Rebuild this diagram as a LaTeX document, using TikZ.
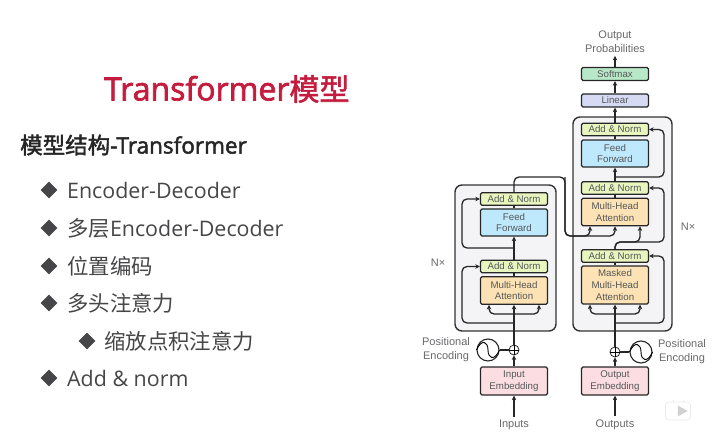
\documentclass[tikz,border=0pt]{standalone}
\usepackage{fontspec}
\setmainfont{Open Sans}
\newfontfamily\cjk{Noto Sans CJK SC}
\newfontfamily\medfont[FakeBold=2.2]{Open Sans}
\newfontfamily\cjkmed[FakeBold=1.8]{Noto Sans CJK SC}
\newfontfamily\labelfont{Liberation Sans}
\usepackage{tikz}
\usetikzlibrary{arrows.meta}
\usetikzlibrary{positioning,shapes.geometric}
\definecolor{titlered}{RGB}{196,28,62}
\definecolor{bodygrey}{RGB}{70,70,72}
\definecolor{labelgrey}{RGB}{105,105,108}
\definecolor{blocktext}{RGB}{85,88,88}
\definecolor{framefill}{RGB}{244,244,247}
\definecolor{normfill}{RGB}{232,245,190}
\definecolor{feedfill}{RGB}{190,232,252}
\definecolor{attfill}{RGB}{252,226,180}
\definecolor{embedfill}{RGB}{252,222,226}
\definecolor{linearfill}{RGB}{214,218,242}
\definecolor{softfill}{RGB}{184,232,200}
\tikzset{
  block/.style={
    draw=black!85,
    rounded corners=1.5pt,
    line width=1.3pt,
    minimum width=67pt,
    inner sep=0pt,
    align=center,
    text=blocktext,
    font=\labelfont\fontsize{9.7}{11.7}\selectfont
  },
  normblock/.style={block, fill=normfill, minimum height=12.5pt},
  feedblock/.style={block, fill=feedfill, minimum height=27pt},
  attblock/.style={block, fill=attfill, minimum height=27.5pt},
  embedblock/.style={block, fill=embedfill, minimum height=28pt},
  layerframe/.style={draw=black!80, fill=framefill, rounded corners=7pt, line width=1.4pt},
  plainlabel/.style={align=center, text=labelgrey, font=\labelfont\fontsize{11}{14}\selectfont},
  wire/.style={draw=black!85, line width=1.3pt, rounded corners=5pt},
  flow/.style={wire, -{Stealth[length=4.5pt, width=4.5pt]}},
  addnode/.style={circle, draw=black!85, line width=0.8pt, minimum size=10pt, inner sep=0pt},
  sinenode/.style={circle, draw=black!85, line width=1.1pt, minimum size=22pt, inner sep=0pt},
  bullet/.style={diamond, fill=bodygrey, inner sep=0pt, minimum size=17pt},
  item/.style={anchor=west, text=bodygrey, font=\fontsize{21.4}{24}\selectfont}
}
\begin{document}
\begin{tikzpicture}[x=1pt, y=-1pt]
  \useasboundingbox (0,0) rectangle (720,433);

  % Left text
  \node[anchor=west, inner sep=0pt, text=titlered, font=\medfont\fontsize{32}{36}\selectfont] (title) at (104,89) {Transformer{\cjkmed\fontsize{30}{36}\selectfont 模型}};
  \node[anchor=west, inner sep=0pt, text=black!85, font=\medfont\fontsize{22.5}{26}\selectfont] (heading) at (20,145) {{\cjkmed 模型结构}-Transformer};

  \node[bullet] (b1) at (49,190) {};
  \node[item, inner sep=0pt] (t1) at (67,190) {Encoder-Decoder};
  \node[bullet] (b2) at (49,228) {};
  \node[item, inner sep=0pt] (t2) at (67,228) {{\cjk 多层}Encoder-Decoder};
  \node[bullet] (b3) at (49,266) {};
  \node[item, inner sep=0pt] (t3) at (67,266) {\cjk 位置编码};
  \node[bullet] (b4) at (49,303) {};
  \node[item, inner sep=0pt] (t4) at (67,303) {\cjk 多头注意力};
  \node[bullet] (b5) at (87,341) {};
  \node[item, inner sep=0pt] (t5) at (104,341) {\cjk 缩放点积注意力};
  \node[bullet] (b6) at (49,378) {};
  \node[item, inner sep=0pt] (t6) at (67,378) {Add \& norm};

  % Layer frames
  \node[layerframe, minimum width=101pt, minimum height=146pt] (encframe) at (505.5,258) {};
  \node[layerframe, minimum width=99pt, minimum height=214pt] (decframe) at (622.5,224) {};

  % Encoder blocks
  \node[embedblock] (inembed) at (514,381) {Input\\Embedding};
  \node[attblock] (encatt) at (514,290.5) {Multi-Head\\Attention};
  \node[normblock] (encnorma) at (514,266.5) {Add \& Norm};
  \node[feedblock] (encfeed) at (514,222.5) {Feed\\Forward};
  \node[normblock] (encnormb) at (514,199) {Add \& Norm};

  % Decoder blocks
  \node[embedblock] (outembed) at (615,381) {Output\\Embedding};
  \node[attblock, minimum height=38pt] (maskatt) at (615,285) {Masked\\Multi-Head\\Attention};
  \node[normblock] (decnorma) at (615,256) {Add \& Norm};
  \node[attblock] (decatt) at (615,212) {Multi-Head\\Attention};
  \node[normblock] (decnormb) at (615,188) {Add \& Norm};
  \node[feedblock] (decfeed) at (615,153.5) {Feed\\Forward};
  \node[normblock] (decnormc) at (615,129.5) {Add \& Norm};
  \node[block, fill=linearfill, minimum height=13pt] (linear) at (615,100.5) {Linear};
  \node[block, fill=softfill, minimum height=13pt] (softmax) at (615,74) {Softmax};

  % Plain labels
  \node[plainlabel] (inputs) at (514,425) {Inputs};
  \node[plainlabel] (outputs) at (615,425) {Outputs};
  \node[plainlabel] (probs) at (615,41.5) {Output\\Probabilities};
  \node[plainlabel] (posleft) at (446,350) {Positional\\Encoding};
  \node[plainlabel] (posright) at (682,352) {Positional\\Encoding};
  \node[plainlabel] (nleft) at (438,263) {N×};
  \node[plainlabel] (nright) at (688,227) {N×};

  % Adders and sine circles
  \node[addnode] (encplus) at (514,350) {};
  \node[addnode] (decplus) at (615,352) {};
  \draw[line width=0.6pt] (encplus.north) -- (encplus.south) (encplus.west) -- (encplus.east);
  \draw[line width=0.6pt] (decplus.north) -- (decplus.south) (decplus.west) -- (decplus.east);
  \node[sinenode] (encsine) at (488,350) {};
  \node[sinenode] (decsine) at (641,352) {};
  \draw[line width=0.9pt] (encsine.west) .. controls (482,338) and (488,342) .. (encsine.center) .. controls (488,358) and (494,362) .. (encsine.east);
  \draw[line width=0.9pt] (decsine.west) .. controls (635,340) and (641,344) .. (decsine.center) .. controls (641,360) and (647,364) .. (decsine.east);
  \draw[wire] (encsine) -- (encplus);
  \draw[wire] (decsine) -- (decplus);

  % Encoder connectors
  \coordinate (encsplit) at (514,314);
  \coordinate (encres) at (514,323);
  \coordinate (encskip) at (514,248);
  \coordinate (encturn) at (565,177);
  \draw[flow] (inputs) -- (inembed);
  \draw[flow] (inembed) -- (encplus);
  \draw[flow] (encplus) -- (encatt);
  \draw[flow] (encsplit) -| ([xshift=-25pt]encatt.south);
  \draw[flow] (encsplit) -| ([xshift=25pt]encatt.south);
  \draw[flow] (encres) -| (462,266.5) -- (encnorma.west);
  \draw[wire] (encatt) -- (encnorma);
  \draw[flow] (encnorma) -- (encfeed);
  \draw[flow] (encskip) -| (462,199) -- (encnormb.west);
  \draw[wire] (encfeed) -- (encnormb);
  \draw[flow] (encnormb.north) |- (encturn) |- (590,236) -- ([xshift=-25pt]decatt.south);
  \draw[flow] (encturn) |- (615,236) -- (decatt.south);

  % Decoder connectors
  \coordinate (decsplit) at (615,314);
  \coordinate (decres) at (615,323);
  \coordinate (decskipb) at (615,177);
  \draw[flow] (outputs) -- (outembed);
  \draw[flow] (outembed) -- (decplus);
  \draw[flow] (decplus) -- (maskatt);
  \draw[flow] (decsplit) -| ([xshift=-25pt]maskatt.south);
  \draw[flow] (decsplit) -| ([xshift=25pt]maskatt.south);
  \draw[flow] (decres) -| (664,256) -- (decnorma.east);
  \draw[wire] (maskatt) -- (decnorma);
  \draw[flow] (decnorma.north) |- (640,242) -- ([xshift=25pt]decatt.south);
  \draw[flow] (decnorma.north) |- (664,242) |- (decnormb.east);
  \draw[wire] (decatt) -- (decnormb);
  \draw[flow] (decnormb) -- (decfeed);
  \draw[flow] (decskipb) -| (664,129.5) -- (decnormc.east);
  \draw[wire] (decfeed) -- (decnormc);
  \draw[flow] (decnormc) -- (linear);
  \draw[flow] (linear) -- (softmax);
  \draw[flow] (softmax) -- (probs);

  % Player mark in the corner
  \draw[black!8, line width=0.8pt, line cap=round] (673,400) -- (676,404) (684,400) -- (681,404);
  \node[draw=black!8, fill=white, rounded corners=3pt, line width=0.8pt, minimum width=25pt, minimum height=18pt] (playbox) at (678,411) {};
  \node[isosceles triangle, fill=black!18, inner sep=0pt, minimum width=11pt, minimum height=10pt, isosceles triangle stretches] (playmark) at (681,411) {};
\end{tikzpicture}
\end{document}
